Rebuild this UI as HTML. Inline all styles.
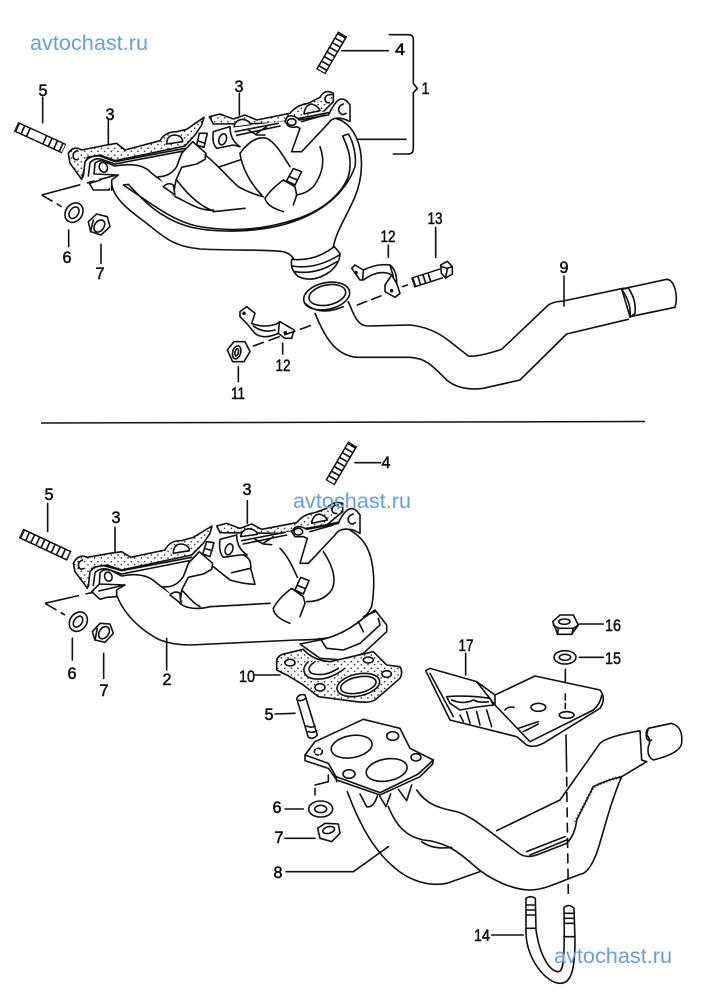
<!DOCTYPE html>
<html><head><meta charset="utf-8"><style>
html,body{margin:0;padding:0;background:#fff}
svg{display:block}
.s path,.s line,.s ellipse,.s polyline,.s circle{stroke:#111;stroke-width:4.8;fill:none;stroke-linecap:round;stroke-linejoin:round}
.s .w{fill:#fff}
.s .g{fill:url(#st)}
.s .nb{stroke:none;fill:#fff}
.s .d{stroke-dasharray:22 14;stroke-linecap:butt}
.s .o{stroke-width:32;stroke-linecap:butt}
.s .i{stroke:#fff;stroke-width:23;stroke-linecap:butt}
.s .t{stroke-width:24;stroke-dasharray:5 11;stroke-linecap:butt}
.n{font:17px "Liberation Sans",sans-serif;fill:#111;stroke:#111;stroke-width:.55;text-anchor:middle}
.m{font:21px "Liberation Sans",sans-serif;fill:#649fe2}
</style></head><body>
<svg width="703" height="999" viewBox="0 0 703 999" xmlns="http://www.w3.org/2000/svg">
<defs>
<pattern id="st" width="20" height="20" patternUnits="userSpaceOnUse">
<rect width="20" height="20" fill="#fff"/>
<circle cx="4" cy="5" r="2.4" fill="#222"/><circle cx="14" cy="14" r="2.4" fill="#222"/>
</pattern>
</defs>
<rect width="703" height="999" fill="#fff"/>

<!-- UPPER MANIFOLD -->
<g class="s" transform="translate(0,20) scale(.33333)">
<line class="o" x1="1028" y1="42" x2="962" y2="155"/><line class="i" x1="1026" y1="45" x2="964" y2="152"/><line class="t" x1="1026" y1="45" x2="964" y2="152"/>
<line x1="1025" y1="92" x2="1165" y2="92"/>
<path d="M1168,44 L1225,44 Q1240,44 1240,58 L1240,190 L1252,205 L1240,218 L1240,385 Q1240,402 1225,402 L1180,402"/>
<line x1="1070" y1="358" x2="1218" y2="358"/>
<line x1="128" y1="232" x2="128" y2="308"/><line x1="718" y1="220" x2="718" y2="285"/><line x1="325" y1="302" x2="325" y2="385"/>
<line class="o" x1="48" y1="320" x2="192" y2="386"/><line class="i" x1="50" y1="321" x2="190" y2="385"/><line class="t" x1="50" y1="321" x2="190" y2="385" style="stroke-dasharray:5 13"/><line class="i" x1="92" y1="340" x2="132" y2="358"/>

<path class="g" d="M205,400 Q220,375 245,390 L320,375 L350,370 L375,390 L480,362 Q495,335 530,335 L560,328 L612,292 L605,315 L585,345 L555,378 L345,422 L300,405 L262,412 L245,478 L210,430 Z"/>
<path class="g" d="M628,290 L660,282 L700,297 L735,285 L770,300 L870,280 Q890,255 925,250 L960,232 Q975,205 1000,220 L1000,245 L960,285 L900,295 L820,310 L640,312 Z"/>
<path class="w" d="M232,392 Q216,398 220,412 Q224,422 234,418"/>
<path class="w" d="M500,372 Q500,345 525,345 Q548,348 548,365 Z"/>
<path class="w" d="M702,322 Q705,300 728,298 Q750,302 752,315 Z"/>
<path class="w" d="M912,282 Q915,255 935,252 Q955,258 960,272 Z"/>
<path class="w" d="M995,224 Q975,222 975,240 Q978,250 988,248"/>

<path class="nb" d="M335,490 C340,540 400,580 440,610 C490,650 520,680 600,687 C700,692 800,688 850,695 Q870,700 880,715 L1000,680 C1010,630 1040,590 1065,530 C1090,470 1090,400 1070,355 C1055,320 1030,300 1005,295 L990,270 L880,300 L640,330 L560,385 L345,430 Z"/>
<path class="w" d="M250,470 L255,425 Q270,405 300,408 L345,425 L555,385 M280,510 L268,490 L330,472 L328,510 Z"/>
<path d="M265,468 L270,428 Q285,412 305,418 L345,432 L556,392"/>
<path class="w" d="M282,462 L285,430 Q300,415 325,430 L345,438 Q420,425 450,455 C480,482 500,490 520,505 M282,462 L355,465 L335,480 L335,510"/>
<ellipse class="w" cx="310" cy="442" rx="12" ry="15" transform="rotate(-20 310 442)"/>
<path d="M335,490 C340,540 400,580 440,610 C490,650 520,680 600,687 C700,692 800,688 850,695 Q870,700 880,715"/>
<path d="M370,495 L385,493 C420,530 470,590 560,618 C640,640 780,640 880,605 C980,570 1040,510 1065,440 C1070,410 1060,365 1045,342 L1028,348 C1045,385 1058,420 1045,470 C1020,530 960,575 880,600 C780,632 680,635 590,618 C510,600 440,540 370,495 Z"/>
<path d="M1000,680 C1010,630 1040,590 1065,530 C1090,470 1090,400 1070,355 C1055,320 1030,300 1005,295"/>
<path class="w" d="M875,718 Q945,725 1003,680 L1020,700 Q1020,730 990,755 Q940,790 895,770 Q870,750 875,718 Z"/>
<path d="M876,738 Q945,750 1018,705 M885,755 Q950,765 1010,725"/>
<path d="M525,530 C560,545 600,575 640,570 M530,480 C560,520 600,560 645,575 M640,575 L735,565"/>
<path class="w" d="M475,470 Q510,470 530,440 L545,400 L578,365 L618,400 L615,418 L590,432 L545,442 L528,480 L520,525"/>
<path class="w" d="M490,500 Q505,485 520,495 L525,525 Z"/>
<path class="w" d="M590,375 L598,340 L622,340 L612,382 Z"/><path d="M592,362 L615,370"/>
<path class="w" d="M640,335 L690,320 Q690,360 720,380 L700,375 L650,385 Q635,370 640,335 Z"/>
<ellipse class="w" cx="668" cy="358" rx="11" ry="17" transform="rotate(20 668 358)"/>
<path d="M710,346 L840,318 M705,335 L835,310 M745,330 L770,345 L795,345 M770,340 L800,320"/>
<path class="w" d="M720,400 Q760,345 800,355 C830,370 850,410 870,440"/>
<path d="M720,400 C725,440 750,490 785,525 M660,440 L720,420 M615,405 C650,430 680,470 715,500 Q750,520 790,530"/>
<path class="w" d="M795,535 Q810,510 850,480 L885,500 L890,525 L880,555 M795,535 Q800,560 850,575"/>
<path class="w" d="M860,482 L880,446 L905,455 L885,495 Z"/><path d="M868,470 L892,480"/>
<path d="M960,380 C975,420 970,460 940,500 Q920,520 890,525"/>
<path class="w" d="M875,395 L900,325 L890,320 Q880,325 865,318 L855,305 L862,290 Q880,282 898,300 L985,285 Q1000,255 1010,245 Q1030,225 1050,255 L1050,305 L1040,300 Q1000,285 985,310 L905,395 Z"/>
<ellipse class="w" cx="875" cy="306" rx="13" ry="10"/>
<path d="M900,295 L985,278 M905,305 L975,285"/>
<path class="w" d="M1030,252 Q1014,258 1016,272 Q1024,290 1038,280"/>
<line class="d" x1="125" y1="525" x2="350" y2="465" style="stroke-dasharray:120 20 24 14 60 0"/>
<line class="d" x1="125" y1="525" x2="185" y2="560" style="stroke-dasharray:38 14"/>
<ellipse class="w" cx="222" cy="578" rx="25" ry="31" transform="rotate(35 222 578)"/>
<ellipse cx="222" cy="578" rx="13" ry="19" transform="rotate(35 222 578)"/>
<path class="w" d="M265,605 L290,582 L322,590 L330,620 L303,645 L272,635 Z"/>
<ellipse cx="298" cy="618" rx="14" ry="20" transform="rotate(35 298 618)"/>
<path d="M280,600 L272,635"/>
<line x1="206" y1="630" x2="206" y2="680"/><line x1="303" y1="673" x2="303" y2="730"/>
</g>

<!-- PIPE 9 + clips -->
<g class="s" transform="translate(220,220) scale(.33333)">
<path class="nb" d="M385,245 C400,280 410,315 440,318 L570,315 C620,320 660,340 690,365 L745,408 Q770,412 845,388 L985,255 Q1000,245 1030,243 L1210,205 L1225,298 L1040,342 L900,480 L790,505 C750,510 710,505 680,480 C640,440 620,415 570,412 L410,412 C340,405 310,340 285,280 Z"/>
<path d="M385,245 C400,280 410,315 440,318 L570,315 C620,320 660,340 690,365 L745,408 Q770,412 845,388 L985,255 Q1000,245 1030,243 L1210,205 M1225,298 L1040,342 L900,480 L790,505 C750,510 710,505 680,480 C640,440 620,415 570,412 L410,412 C340,405 310,340 285,280"/>
<path class="w" d="M1205,207 L1340,178 C1365,180 1375,230 1365,262 L1230,290 Z"/>
<path class="w" d="M1205,208 L1225,204 Q1250,240 1245,280 L1230,292 Q1235,250 1205,208 Z"/>
<ellipse class="w" cx="320" cy="228" rx="70" ry="40" transform="rotate(-12 320 228)"/>
<ellipse cx="322" cy="225" rx="56" ry="30" transform="rotate(-12 322 225)"/>
<path d="M255,250 Q300,290 370,260"/>
<path class="w" d="M395,145 L405,135 L430,150 Q470,130 510,135 Q530,150 530,190 L540,220 L525,232 L495,215 L495,195 L515,165 Q480,145 430,180 L420,180 Z"/>
<path d="M430,150 L428,180 M510,135 L520,170 M515,165 L530,190"/><circle cx="515" cy="212" r="3"/><circle cx="408" cy="158" r="3"/>
<path class="w" d="M60,275 L80,260 L105,280 L95,310 Q130,325 170,312 L180,305 L222,330 L215,355 L195,355 L175,340 Q130,360 105,340 L80,310 L60,290 Z"/>
<path d="M178,308 L175,340 M100,318 Q130,340 165,330"/><circle cx="196" cy="338" r="3"/><circle cx="72" cy="280" r="3"/>
<path class="w" d="M22,390 L42,365 L75,365 L90,395 L72,425 L38,425 Z"/>
<ellipse cx="50" cy="397" rx="12" ry="20" transform="rotate(15 50 397)"/><ellipse cx="50" cy="397" rx="5" ry="11" transform="rotate(15 50 397)"/>
<line x1="100" y1="378" x2="285" y2="312" style="stroke-dasharray:32 18"/>
<line x1="412" y1="255" x2="490" y2="225" style="stroke-dasharray:30 16"/>
<line x1="548" y1="200" x2="562" y2="195"/>
<line class="o" x1="578" y1="188" x2="665" y2="160"/><line class="i" x1="580" y1="187" x2="665" y2="160"/><line class="t" x1="580" y1="187" x2="640" y2="168"/>
<path class="w" d="M662,135 L682,124 L697,140 L697,162 L677,174 L664,160 Z"/><path d="M664,140 L682,145 L697,140 M682,145 L677,174"/>
<line x1="505" y1="75" x2="505" y2="112"/><line x1="647" y1="22" x2="647" y2="112"/><line x1="188" y1="370" x2="188" y2="402"/><line x1="55" y1="440" x2="55" y2="485"/><line x1="1032" y1="168" x2="1032" y2="258"/>
</g>

<line x1="41" y1="423" x2="645" y2="421.5" stroke="#111" stroke-width="1.5"/>

<!-- LOWER MANIFOLD -->
<g class="s" transform="translate(10,440) scale(.33333)">
<line class="o" x1="1028" y1="12" x2="960" y2="128"/><line class="i" x1="1026" y1="15" x2="962" y2="125"/><line class="t" x1="1026" y1="15" x2="962" y2="125"/>
<line x1="1035" y1="68" x2="1112" y2="68"/>
<line x1="712" y1="182" x2="712" y2="250"/><line x1="315" y1="262" x2="315" y2="340"/><line x1="113" y1="190" x2="113" y2="275"/>
<line class="o" x1="33" y1="280" x2="178" y2="348"/><line class="i" x1="35" y1="281" x2="176" y2="347"/><line class="t" x1="35" y1="281" x2="176" y2="347" style="stroke-dasharray:5 12"/>

<path class="g" d="M190,370 Q205,340 232,352 L300,340 L335,335 L362,352 L465,330 Q480,300 515,302 L550,292 L606,258 L600,280 L580,310 L545,345 L335,390 L290,375 L250,382 L232,445 L195,395 Z"/>
<path class="g" d="M620,258 L650,250 L690,265 L725,252 L755,268 L860,248 Q880,222 915,218 L950,205 Q970,180 998,190 L998,215 L950,255 L890,265 L810,280 L630,278 Z"/>
<path class="w" d="M218,360 Q202,366 206,380 Q210,390 220,386"/>
<path class="w" d="M490,340 Q490,312 515,312 Q538,316 538,332 Z"/>
<path class="w" d="M692,290 Q695,268 718,266 Q740,270 742,283 Z"/>
<path class="w" d="M905,250 Q908,225 928,222 Q948,228 952,240 Z"/>
<path class="w" d="M985,195 Q965,195 966,212 Q970,222 980,220"/>

<path class="nb" d="M320,465 C340,520 390,570 450,600 Q490,615 540,615 L860,600 Q960,600 1000,580 L1060,535 Q1075,520 1085,500 C1095,440 1095,370 1070,320 Q1050,285 1010,265 L880,270 L630,300 L550,350 L335,395 Z"/>
<path class="w" d="M235,440 L240,395 Q255,375 285,378 L335,392 L545,352"/>
<path d="M250,436 L255,398 Q270,382 295,388 L335,402 L548,360"/>
<path class="w" d="M268,432 L270,398 Q285,382 310,395 L335,408 Q400,395 435,425 C470,455 495,465 515,485 M268,432 L345,435 L320,450 L320,470 L290,472 L270,478 L245,455 L268,432"/>
<ellipse class="w" cx="295" cy="410" rx="11" ry="14" transform="rotate(-20 295 410)"/>
<path d="M320,465 C340,520 390,570 450,600 Q490,615 540,615 L860,600 Q960,600 1000,580 L1060,535 Q1075,520 1085,500 C1095,440 1095,370 1070,320 Q1050,285 1010,265"/>
<path class="w" d="M1095,510 L1130,555 L1130,575 L1060,640 L1000,660 L930,655 L870,612 L930,600 Q1000,585 1060,535 Z"/>
<path d="M930,595 L950,625 L1000,630 L1050,610 L1110,555 L1105,535 M1045,545 L1060,575 M1060,530 L1095,515"/>
<path d="M510,490 C525,505 560,510 600,500 L780,490 M515,450 C535,470 550,490 570,500"/>
<path class="w" d="M460,440 Q495,445 520,410 L535,370 L568,335 L608,370 L605,388 L580,402 L535,412 L515,450 L510,490"/>
<path class="w" d="M480,465 Q495,450 510,460 L512,490 Z"/>
<path class="w" d="M578,342 L590,305 L612,308 L600,350 Z"/><path d="M584,325 L606,332"/>
<path class="w" d="M630,298 L680,285 Q680,325 712,345 L690,345 L640,352 Q625,335 630,298 Z"/>
<ellipse class="w" cx="657" cy="328" rx="11" ry="17" transform="rotate(20 657 328)"/>
<path d="M700,312 L830,285 M695,302 L825,277 M735,298 L760,312 L785,314 M760,310 L790,290"/>
<path class="w" d="M610,380 L660,420 Q700,432 735,433 L722,385 L665,398 M722,385 Q725,355 700,345"/>
<path d="M810,325 C835,350 850,385 862,412"/>
<path class="w" d="M790,505 Q805,475 845,445 L880,470 L885,490 L870,530 M790,505 Q790,530 840,550"/>
<path class="w" d="M855,450 L872,412 L897,422 L880,462 Z"/><path d="M862,436 L886,446"/>
<path d="M940,335 C970,380 980,420 965,450 Q940,485 890,485"/>
<path class="w" d="M870,370 L892,295 L880,290 L855,290 L845,275 L855,262 Q870,255 890,268 L985,250 Q995,225 1010,212 Q1030,195 1050,225 L1050,280 L1030,270 Q990,260 975,285 L895,370 Z"/>
<ellipse class="w" cx="865" cy="275" rx="13" ry="10"/>
<path d="M895,265 L985,247 M900,275 L970,255"/>
<path class="w" d="M1030,222 Q1012,228 1015,242 Q1022,258 1036,248"/>
<line x1="105" y1="490" x2="345" y2="435" style="stroke-dasharray:105 20 25 14 60 0;stroke-linecap:butt"/>
<line x1="105" y1="490" x2="165" y2="525" style="stroke-dasharray:40 14;stroke-linecap:butt"/>
<ellipse class="w" cx="205" cy="545" rx="25" ry="31" transform="rotate(35 205 545)"/>
<ellipse cx="204" cy="545" rx="12" ry="18" transform="rotate(35 204 545)"/>
<path class="w" d="M247,575 L270,550 L300,552 L310,580 L285,607 L255,600 Z"/>
<ellipse cx="282" cy="578" rx="14" ry="20" transform="rotate(35 282 578)"/>
<path d="M262,565 L255,600"/>
<line x1="187" y1="595" x2="187" y2="660"/><line x1="281" y1="640" x2="281" y2="715"/><line x1="470" y1="595" x2="470" y2="690"/>
<line x1="735" y1="705" x2="810" y2="705"/>

<path class="g" d="M800,665 Q800,645 830,640 L880,628 Q910,662 960,665 L1090,635 L1130,675 L1170,680 Q1180,695 1170,715 L1095,780 Q1080,790 1040,785 L925,770 L880,735 L830,705 L800,690 Z"/>
<ellipse class="w" cx="840" cy="668" rx="15" ry="10"/>
<ellipse class="w" cx="1130" cy="702" rx="14" ry="10"/>
<ellipse class="w" cx="930" cy="742" rx="15" ry="11"/>
<ellipse class="w" cx="1075" cy="660" rx="15" ry="9"/>
<ellipse class="w" cx="1045" cy="735" rx="65" ry="33" transform="rotate(-12 1045 735)"/>
<ellipse cx="1045" cy="735" rx="54" ry="24" transform="rotate(-12 1045 735)"/>
<path class="w" d="M895,665 Q868,690 895,712 Q945,730 1005,685 M915,665 Q885,685 905,700 Q945,712 985,685"/>
</g>

<!-- LOWER RIGHT -->
<g class="s" transform="translate(260,600) scale(.33333)">
<path class="w" d="M110,295 Q118,280 135,285 L172,405 Q160,420 145,412 Z"/><path d="M112,300 Q125,305 137,295 M140,378 Q155,385 165,378 M145,395 Q160,400 170,392"/>
<line x1="45" y1="342" x2="105" y2="340"/>
<line x1="958" y1="72" x2="1030" y2="72"/><line x1="958" y1="172" x2="1030" y2="172"/><line x1="617" y1="160" x2="617" y2="225"/>
<path class="w" d="M878,65 L900,45 L940,45 L955,75 L935,103 L893,103 Z"/>
<path d="M880,75 L895,85 L940,85 L955,75 M895,85 L893,103 M940,85 L935,103"/>
<ellipse cx="913" cy="65" rx="17" ry="8"/>
<ellipse class="w" cx="915" cy="172" rx="33" ry="20"/><ellipse cx="915" cy="172" rx="17" ry="9"/>
<line x1="916" y1="208" x2="916" y2="270"/>

<path class="w" d="M497,212 L510,205 L650,245 L705,285 L825,228 L1020,270 Q1040,295 1020,325 L850,430 Q820,445 800,435 L770,410 L630,375 Q590,365 570,360 Z"/>
<path d="M510,220 L580,350 M705,315 L810,425 L1000,330 Q1022,310 1025,285 M650,245 L705,315"/>
<path class="w" d="M560,290 Q620,285 690,295 L700,315 Q650,320 600,330 L570,310 Z"/>
<path d="M575,300 Q610,315 640,300 Q660,310 685,305 M620,335 L630,370 M650,335 L660,375 M680,330 L695,380 M600,345 L610,365"/>
<ellipse cx="835" cy="322" rx="22" ry="12"/><ellipse cx="920" cy="345" rx="22" ry="10"/>
<path d="M735,330 Q745,318 762,322 M775,385 L835,365 M790,395 L835,372"/>
<path d="M705,285 L705,315"/>
<line x1="916" y1="282" x2="916" y2="325" style="stroke-dasharray:18 10"/>

<path class="nb" d="M262,575 C290,650 330,740 400,800 C450,845 510,860 560,850 L660,815 L640,795 L450,600 Z"/>
<path d="M262,575 C290,650 330,740 400,800 C450,845 510,860 560,850 L660,815"/>
<path class="nb" d="M470,570 C500,615 540,625 590,635 C640,650 680,690 710,692 L900,600 L1020,430 Q1040,410 1140,392 L1145,480 L1160,485 L1100,510 L1085,530 L1060,590 L1010,760 Q990,810 970,820 C920,835 860,870 810,870 C760,870 690,840 640,795 C590,750 550,725 490,720 C440,710 410,680 385,620 Z"/>
<path d="M385,620 C410,680 440,710 490,720 C550,725 590,750 640,795 C690,840 760,870 810,870 C860,870 920,835 970,820 Q990,810 1010,760 C1030,700 1050,610 1085,530 L1160,485"/>
<path d="M470,570 C500,615 540,625 590,635 C640,650 680,690 780,762 Q800,775 830,765 L920,730 Q945,705 950,660 L1000,560 Q1040,540 1085,530"/>
<path d="M710,692 L900,600 L1020,430 Q1040,410 1140,392 L1145,480 L1160,485"/>
<path d="M800,755 L915,710 M810,765 L920,720 M485,725 Q520,750 575,742"/>
<path d="M945,665 L1000,562 Q1040,540 1085,530" style="stroke-width:9;stroke-dasharray:2 8;stroke-linecap:butt"/>
<path class="w" d="M1165,385 L1235,370 Q1270,380 1265,430 Q1260,460 1180,480 Q1160,470 1165,440 Q1175,420 1160,405 Z"/>
<path d="M1165,385 Q1155,395 1160,415 Q1165,425 1175,420"/>
<line x1="918" y1="405" x2="920" y2="515"/>
<line x1="920" y1="530" x2="925" y2="890" style="stroke-dasharray:30 16;stroke-linecap:butt"/>
<path class="w" d="M135,465 L165,425 L310,358 L420,385 L450,445 L520,480 L518,492 L480,530 L360,585 L230,540 L205,505 L135,482 Z"/>
<path d="M135,465 L205,490 L228,530 L360,578 L475,522 L520,480 M228,530 L230,545"/>
<ellipse class="w" cx="275" cy="440" rx="62" ry="33" transform="rotate(-10 275 440)"/>
<ellipse class="w" cx="380" cy="510" rx="62" ry="33" transform="rotate(-10 380 510)"/>
<ellipse class="w" cx="398" cy="408" rx="18" ry="13"/><ellipse class="w" cx="468" cy="472" rx="15" ry="11"/><ellipse class="w" cx="267" cy="522" rx="18" ry="13"/>
<ellipse cx="175" cy="455" rx="12" ry="10" style="stroke-dasharray:10 6"/>
<path d="M300,582 L320,620 Q340,625 352,588 M360,590 L378,620 L392,582 M415,568 L440,602 L455,555"/>
<path d="M205,525 L205,545 L165,555 M165,565 L165,585"/>
<ellipse class="w" cx="182" cy="627" rx="36" ry="24"/><ellipse cx="182" cy="627" rx="18" ry="11"/>
<line x1="75" y1="627" x2="130" y2="627"/>
<path class="w" d="M173,685 L195,670 L235,672 L240,700 L215,725 L180,715 Z"/>
<ellipse cx="206" cy="690" rx="18" ry="10" transform="rotate(-15 206 690)"/>
<line x1="75" y1="715" x2="165" y2="715"/>
<path d="M78,815 L280,815 L385,740"/>
<path d="M798,895 Q812,885 826,895 L828,990 C840,1070 870,1115 895,1115 C910,1115 915,1080 912,922 Q928,910 942,925 L945,1020 C945,1120 930,1150 900,1150 C860,1150 800,1080 798,1000 Z"/>
<path d="M798,915 L826,915 M798,930 L826,930 M798,945 L826,945 M798,985 L826,985 M912,940 L942,940 M912,955 L942,955 M912,970 L942,970 M912,1010 L942,1010"/>
<line x1="695" y1="1005" x2="790" y2="1005"/>
</g>

<!-- LABELS -->
<g>
<text class="n" x="400" y="55" textLength="10" lengthAdjust="spacingAndGlyphs">4</text>
<text class="n" x="425.5" y="94" textLength="8" lengthAdjust="spacingAndGlyphs">1</text>
<text class="n" x="239" y="92" textLength="9" lengthAdjust="spacingAndGlyphs">3</text>
<text class="n" x="110" y="120" textLength="9" lengthAdjust="spacingAndGlyphs">3</text>
<text class="n" x="43" y="96" textLength="9" lengthAdjust="spacingAndGlyphs">5</text>
<text class="n" x="67" y="263" textLength="9" lengthAdjust="spacingAndGlyphs">6</text>
<text class="n" x="100" y="279" textLength="9" lengthAdjust="spacingAndGlyphs">7</text>
<text class="n" x="388" y="242" textLength="15" lengthAdjust="spacingAndGlyphs">12</text>
<text class="n" x="435" y="224" textLength="15" lengthAdjust="spacingAndGlyphs">13</text>
<text class="n" x="283" y="371" textLength="15" lengthAdjust="spacingAndGlyphs">12</text>
<text class="n" x="238" y="399" textLength="14" lengthAdjust="spacingAndGlyphs">11</text>
<text class="n" x="564" y="273" textLength="9" lengthAdjust="spacingAndGlyphs">9</text>
<text class="n" x="386" y="468" textLength="9" lengthAdjust="spacingAndGlyphs">4</text>
<text class="n" x="247" y="495" textLength="9" lengthAdjust="spacingAndGlyphs">3</text>
<text class="n" x="116" y="523" textLength="9" lengthAdjust="spacingAndGlyphs">3</text>
<text class="n" x="49" y="500" textLength="9" lengthAdjust="spacingAndGlyphs">5</text>
<text class="n" x="167" y="685" textLength="9" lengthAdjust="spacingAndGlyphs">2</text>
<text class="n" x="72" y="679" textLength="9" lengthAdjust="spacingAndGlyphs">6</text>
<text class="n" x="104" y="696" textLength="9" lengthAdjust="spacingAndGlyphs">7</text>
<text class="n" x="247" y="682" textLength="16" lengthAdjust="spacingAndGlyphs">10</text>
<text class="n" x="269" y="720" textLength="9" lengthAdjust="spacingAndGlyphs">5</text>
<text class="n" x="613" y="631" textLength="16" lengthAdjust="spacingAndGlyphs">16</text>
<text class="n" x="613" y="664" textLength="16" lengthAdjust="spacingAndGlyphs">15</text>
<text class="n" x="466" y="651" textLength="15" lengthAdjust="spacingAndGlyphs">17</text>
<text class="n" x="277" y="813" textLength="9" lengthAdjust="spacingAndGlyphs">6</text>
<text class="n" x="279" y="843" textLength="9" lengthAdjust="spacingAndGlyphs">7</text>
<text class="n" x="278" y="878" textLength="9" lengthAdjust="spacingAndGlyphs">8</text>
<text class="n" x="482" y="941" textLength="16" lengthAdjust="spacingAndGlyphs">14</text>
</g>
<text class="m" x="30" y="50" textLength="118" lengthAdjust="spacingAndGlyphs">avtochast.ru</text>
<text class="m" x="293" y="508" textLength="118" lengthAdjust="spacingAndGlyphs">avtochast.ru</text>
<text class="m" x="554" y="963" textLength="118" lengthAdjust="spacingAndGlyphs">avtochast.ru</text>
</svg>
</body></html>
